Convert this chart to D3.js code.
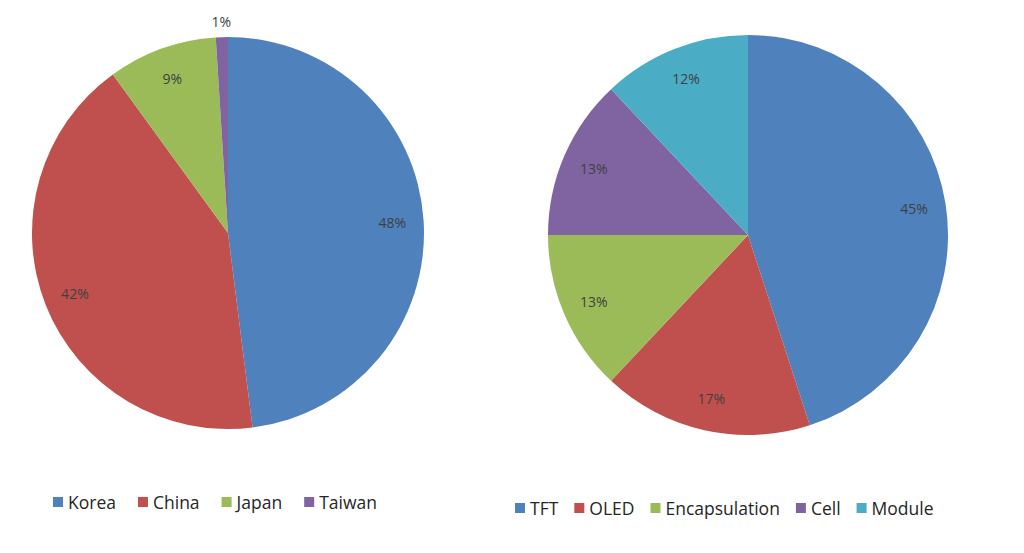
<!DOCTYPE html>
<html><head><meta charset="utf-8">
<script src="https://cdn.jsdelivr.net/npm/d3@7"></script>
<style>body{margin:0;background:#fff}svg{font-family:"Open Sans",sans-serif}</style>
</head><body><svg id="c" width="1024" height="553"></svg>
<script>
const regionCats = ["Korea","China","Japan","Taiwan"];
const regionVals = [48,42,9,1];
const stageCats = ["TFT","OLED","Encapsulation","Cell","Module"];
const stageVals = [45,17,13,13,12];
const colors = ["#4F81BD","#C0504D","#9BBB59","#8064A2","#4BACC6"];

const svg = d3.select("#c");
function drawPie(cats, vals, cx, cy, r, legX, legY, gaps, outsideSmall){
  const g = svg.append("g").attr("transform",`translate(${cx},${cy})`);
  const arcs = d3.pie().sort(null).value(d=>d)(vals);
  const arc = d3.arc().innerRadius(0).outerRadius(r);
  g.selectAll("path").data(arcs).join("path").attr("d",arc)
    .attr("fill",(d,i)=>colors[i]);
  const lab = d3.arc().innerRadius(r*0.84).outerRadius(r*0.84);
  const labOut = d3.arc().innerRadius(r*1.08).outerRadius(r*1.08);
  g.selectAll("text").data(arcs).join("text")
    .attr("transform",d=>{const p=(outsideSmall&&d.data<3?labOut:lab).centroid(d);return `translate(${p})`;})
    .attr("text-anchor","middle").attr("dominant-baseline","central")
    .attr("font-size",14).attr("fill","#404040")
    .text(d=>d.data+"%");
  let x = legX;
  cats.forEach((c,i)=>{
    svg.append("rect").attr("x",x).attr("y",legY-5).attr("width",10).attr("height",10).attr("fill",colors[i]);
    const t = svg.append("text").attr("x",x+15).attr("y",legY).attr("dominant-baseline","central")
      .attr("font-size",17.5).attr("fill","#262626").text(c);
    x += 15 + t.node().getComputedTextLength() + gaps;
  });
}
drawPie(regionCats, regionVals, 228, 233, 196, 53, 502, 22, true);
drawPie(stageCats, stageVals, 748, 235, 200, 515, 508, 16, false);
</script></body></html>
